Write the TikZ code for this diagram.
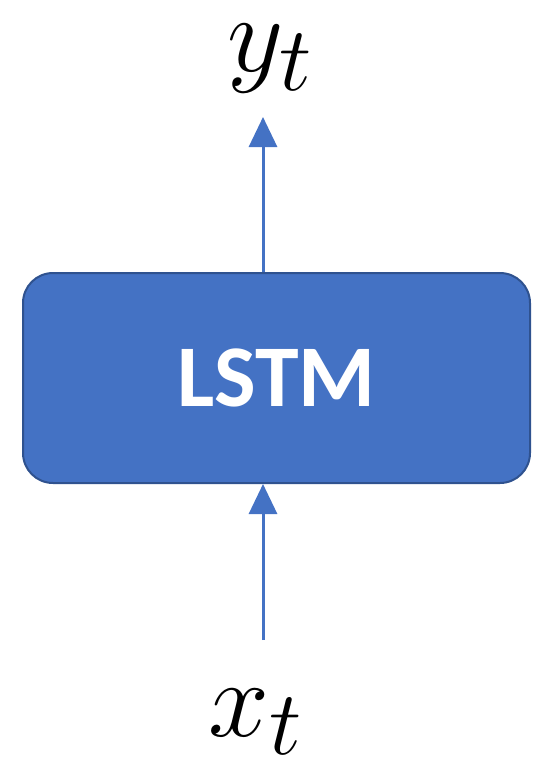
\documentclass[tikz,border=0pt]{standalone}
\usepackage{fontspec}
\newfontfamily\boxfont{Carlito}
\usetikzlibrary{arrows.meta}
\definecolor{lstmfill}{HTML}{4472C4}
\definecolor{lstmedge}{HTML}{2F528F}
\tikzset{
  lstmbox/.style={draw=lstmedge, line width=1pt, fill=lstmfill, rounded corners=15pt,
    minimum width=253.5pt, minimum height=105pt, inner sep=0pt,
    font=\boxfont\bfseries\fontsize{44}{44}\selectfont, text=white},
  lbl/.style={inner sep=0pt, font=\Huge, scale=2.2},
  arr/.style={draw=lstmfill, line width=1.5pt, -{Triangle[width=14pt,length=15pt]}}
}
\begin{document}
\begin{tikzpicture}[x=0.5pt,y=-0.5pt]
\useasboundingbox (0,0) rectangle (550,782);
\node[lstmbox] (box) at (276.5,378) {LSTM};
\node[lbl] (yt) at (271,59) {$y_t$};
\node[lbl] (xt) at (256,722) {$x_t$};
\coordinate (ytip) at (263,117);
\coordinate (xtail) at (263,640);
\draw[arr] (box.north -| ytip) -- (ytip);
\draw[arr] (xtail) -- (box.south -| xtail);
\end{tikzpicture}
\end{document}
